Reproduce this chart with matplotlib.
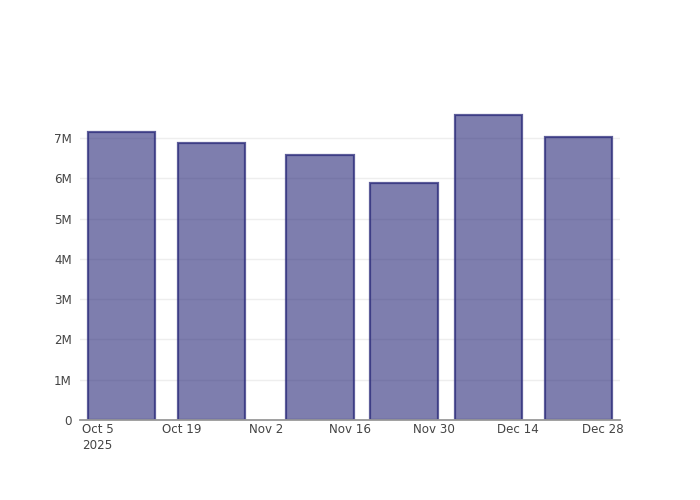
import matplotlib
matplotlib.use("Agg")
import matplotlib.pyplot as plt
import matplotlib.dates as mdates
import numpy as np
import pandas as pd

# bar dates and values
dates = pd.to_datetime(["2025-10-09", "2025-10-24", "2025-11-11",
                        "2025-11-25", "2025-12-09", "2025-12-24"])
values = [7.15e6, 6.87e6, 6.59e6, 5.89e6, 7.57e6, 7.03e6]

tick_dates = pd.to_datetime(["2025-10-05", "2025-10-19", "2025-11-02", "2025-11-16",
                             "2025-11-30", "2025-12-14", "2025-12-28"])
tick_labels = ["Oct 5\n2025", "Oct 19", "Nov 2", "Nov 16", "Nov 30", "Dec 14", "Dec 28"]
y_ticks = [0, 1e6, 2e6, 3e6, 4e6, 5e6, 6e6, 7e6]
y_labels = ["0", "1M", "2M", "3M", "4M", "5M", "6M", "7M"]

plt.rcParams["font.family"] = ["DejaVu Sans"]
text_color = "#444444"

fig = plt.figure(figsize=(7, 5), dpi=100)
ax = fig.add_axes([80 / 700, 80 / 500, 540 / 700, 320 / 500])

width = 11.2  # days
x = mdates.date2num(dates)
ax.bar(x, values, width=width, color=(40 / 255, 40 / 255, 120 / 255, 0.6),
       edgecolor=(40 / 255, 40 / 255, 120 / 255, 0.75), linewidth=1.6, zorder=2)

# x range padded like plotly autorange
pad = (x[-1] - x[0] + width) * 8 / 524
ax.set_xlim(x[0] - width / 2 - pad, x[-1] + width / 2 + pad)
ax.set_ylim(0, max(values) * 1.05)

ax.set_xticks(mdates.date2num(tick_dates))
ax.set_xticklabels(tick_labels, ha="center", linespacing=1.3)
ax.set_yticks(y_ticks)
ax.set_yticklabels(y_labels)

ax.set_axisbelow(True)
ax.grid(axis="y", color="#eeeeee", linewidth=1)
for s in ["top", "right", "left"]:
    ax.spines[s].set_visible(False)
ax.spines["bottom"].set_color("#999999")
ax.spines["bottom"].set_linewidth(1.3)
ax.spines["bottom"].set_zorder(4)

ax.tick_params(axis="x", length=0, pad=2, labelsize=8.6, labelcolor=text_color)
ax.tick_params(axis="y", length=0, pad=6, labelsize=8.6, labelcolor=text_color)

fig.savefig("out.png", dpi=100)
